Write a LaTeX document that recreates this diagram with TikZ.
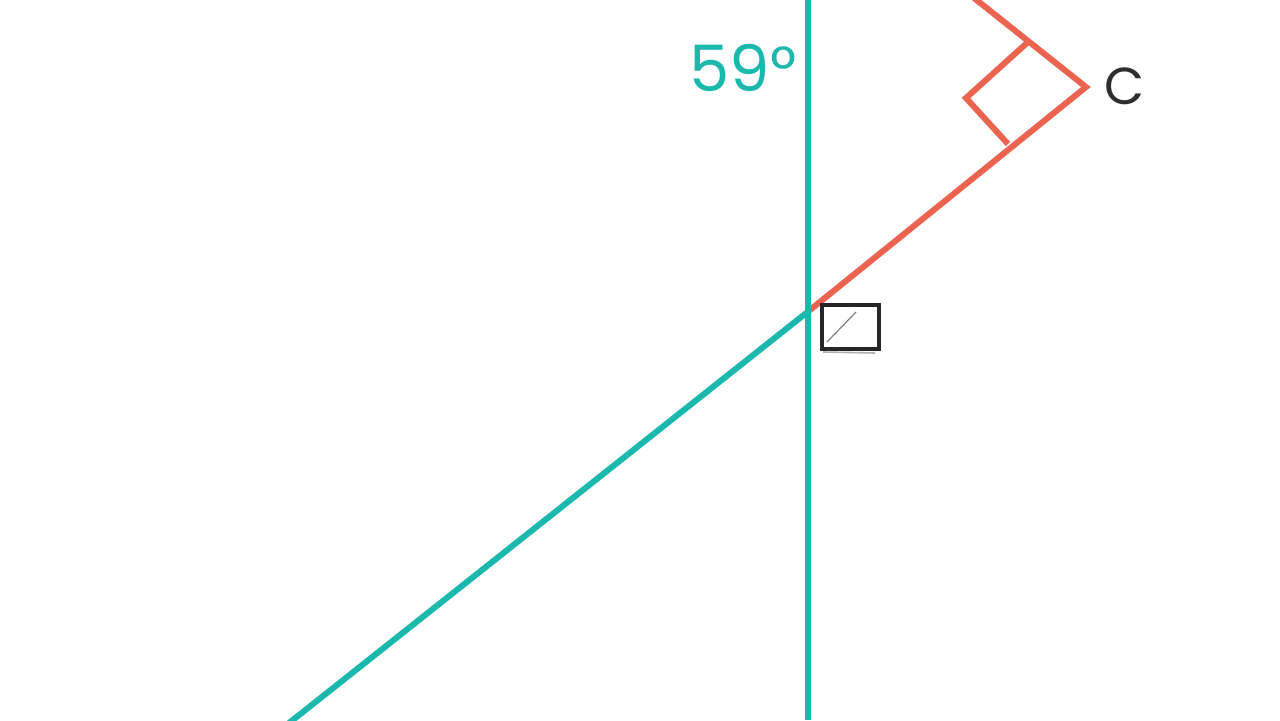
\documentclass[tikz,border=0pt]{standalone}
\usepackage{fontspec}
\setmainfont{Poppins}
\definecolor{tealc}{HTML}{1BB8AE}
\definecolor{redc}{HTML}{EC6450}
\definecolor{darkc}{HTML}{2E2E2E}
\begin{document}
\begin{tikzpicture}[x=0.5pt,y=-0.5pt,
  tealline/.style={draw=tealc,line width=3pt},
  redline/.style={draw=redc,line width=3pt,line join=miter},
  lbl/.style={inner sep=0pt,anchor=center}]
\fill[white] (0,0) rectangle (1280,720);
\useasboundingbox (0,0) rectangle (1280,720);
% coordinates
\coordinate (O) at (807.5,312);
\coordinate (Ctip) at (1086,87);
\coordinate (Top) at (974,-2);
\coordinate (BL) at (289,723);
\coordinate (VT) at (807.5,0);
\coordinate (VB) at (807.5,720);
\coordinate (M1) at (1028,42);
\coordinate (M2) at (966,98);
\coordinate (M3) at (1008,144);
% red lines
\draw[redline] (Top) -- (Ctip) -- (O);
\draw[redline] (M1) -- (M2) -- (M3);
% teal lines
\draw[tealline] (O) -- (BL);
\draw[tealline] (VT) -- (VB);
% labels
\node[lbl,text=tealc,font=\fontsize{32}{36}\selectfont] (ang) at (743,68) {59°};
\node[lbl,text=darkc,font=\fontsize{26}{30}\selectfont] (C) at (1125,86) {C};
% small box
\draw[black!85,line width=2pt] (821.5,304.5) rectangle (878.5,348.5);
\draw[gray,line width=0.6pt] (827,342) -- (856,312);
\draw[black!30,line width=0.8pt] (823,352) -- (875,353);
\end{tikzpicture}
\end{document}
